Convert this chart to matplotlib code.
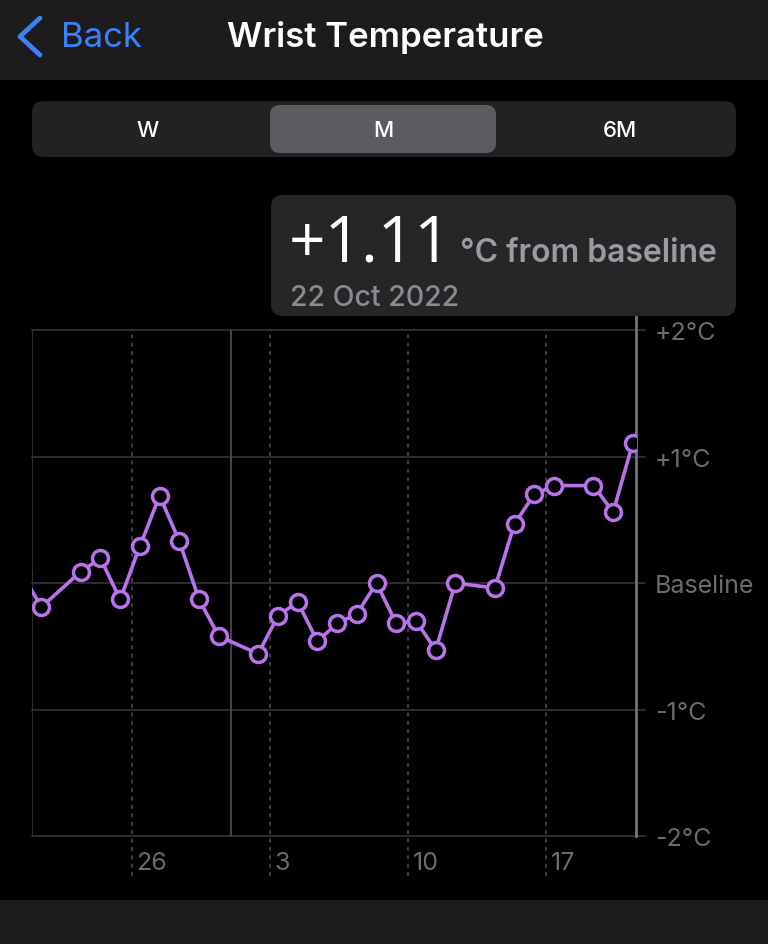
import numpy as np
import matplotlib.pyplot as plt
from matplotlib.patches import FancyBboxPatch, Rectangle

plt.rcParams['font.family'] = ['Inter', 'DejaVu Sans']

# days counted from 21 Sep 2022 (day 0); missing days are simply absent
days = [-1, 0, 2, 3, 4, 5, 6, 7, 8, 9, 11, 12, 13, 14, 15, 16, 17,
        18, 19, 20, 21, 23, 24, 25, 26, 28, 29, 30]
temps = [0.08, -0.19, 0.09, 0.195, -0.13, 0.29, 0.69, 0.33, -0.13, -0.42,
         -0.56, -0.26, -0.15, -0.46, -0.32, -0.245, 0.0,
         -0.32, -0.30, -0.53, 0.0, -0.04, 0.47, 0.70, 0.77, 0.77, 0.56, 1.11]

week_ticks = [5, 12, 19, 26]
week_labels = ['26', '3', '10', '17']
month_start = 10  # 1 Oct
y_ticks = [2, 1, 0, -1, -2]
y_labels = ['+2°C', '+1°C', 'Baseline', '-1°C', '-2°C']

segments = ['W', 'M', '6M']
selected_value = '+1.11'
selected_date = '22 Oct 2022'

W, H = 768, 945
PURPLE = '#b872ea'
BAR = '#1c1c1e'
LABEL = '#6b6b70'

fig = plt.figure(figsize=(W / 100, H / 100), dpi=100, facecolor='black')

# --- interface layer in pixel coordinates
ui = fig.add_axes([0, 0, 1, 1])
ui.set_xlim(0, W)
ui.set_ylim(H, 0)
ui.axis('off')
ui.set_facecolor('black')

ui.add_patch(Rectangle((0, 0), W, 80, color=BAR))
ui.add_patch(Rectangle((0, 901), W, 44, color=BAR))
ui.plot([40, 20, 40], [19, 37.5, 56], color='#3a82f7', lw=3.4,
        solid_capstyle='round', solid_joinstyle='round')
ui.text(61, 38, 'Back', color='#3a82f7', fontsize=25, va='center', ha='left')
ui.text(385, 38, 'Wrist Temperature', color='white', fontsize=25,
        fontweight='semibold', va='center', ha='center')

ui.add_patch(FancyBboxPatch((32, 102), 704, 56, boxstyle='round,pad=0,rounding_size=12',
                            color='#222224', lw=0))
ui.add_patch(FancyBboxPatch((270, 106), 226, 48, boxstyle='round,pad=0,rounding_size=10',
                            color='#5c5c60', lw=0))
for name, cx in zip(segments, [148, 383, 620]):
    ui.text(cx, 131, name, color='white', fontsize=16, fontweight='medium',
            ha='center', va='center')

ui.add_patch(FancyBboxPatch((271, 196), 465, 121, boxstyle='round,pad=0,rounding_size=12',
                            color='#262628', lw=0))
ui.text(289, 262, selected_value, color='white', fontsize=46, fontweight='normal',
        family=['Open Sans', 'DejaVu Sans'], ha='left', va='baseline')
ui.text(460, 262, '°C from baseline', color='#9a9a9f', fontsize=23,
        fontweight='semibold', ha='left', va='baseline')
ui.text(290, 306, selected_date, color='#8a8a8f', fontsize=20.5,
        fontweight='medium', ha='left', va='baseline')

# --- chart
left, right, top, bottom = 32, 636, 331, 837
ax = fig.add_axes([left / W, 1 - bottom / H, (right - left) / W, (bottom - top) / H])
ax.set_facecolor('none')
px_per_day = 19.72
x0 = week_ticks[0] - (132 - left) / px_per_day
x1 = week_ticks[0] + (right - 132) / px_per_day
ax.set_xlim(x0, x1)
ax.set_ylim(-2, 2)
for s in ax.spines.values():
    s.set_visible(False)
ax.set_xticks([])
ax.set_yticks([])

grid_c = '#39393c'
over = (645 - right) / (right - left)
for yv in y_ticks:
    ax.axhline(yv, xmin=0, xmax=1 + over, color=grid_c, lw=1.1, clip_on=False, zorder=1)
ax.axvline(x0, color=grid_c, lw=1.1, zorder=1)
below = (877 - bottom) / (bottom - top)
for xt in week_ticks:
    ax.axvline(xt, ymin=-below, ymax=1, color='#505054', lw=1.1,
               ls=(0, (2.5, 3)), clip_on=False, zorder=1)
ax.axvline(month_start, color='#4c4c50', lw=1.3, zorder=1)
above = (bottom - 318) / (bottom - top)
ax.axvline(x1, ymin=0, ymax=above, color='#76767a', lw=2.0, clip_on=False, zorder=2)

for xt, lab in zip(week_ticks, week_labels):
    ax.text(xt + 0.22, -2.21, lab, color=LABEL, fontsize=18, ha='left', va='center')
for yv, lab in zip(y_ticks, y_labels):
    ax.text(x1 + (655 - right) / px_per_day, yv - 0.02, lab, color=LABEL, fontsize=18,
            ha='left', va='center', clip_on=False)

xs = np.array(days) + 0.4
ax.plot(xs, temps, color=PURPLE, lw=2.6, marker='o', ms=11.5, mew=2.5,
        mfc='black', mec=PURPLE, zorder=3)

fig.savefig('out.png', dpi=100, facecolor='black')
